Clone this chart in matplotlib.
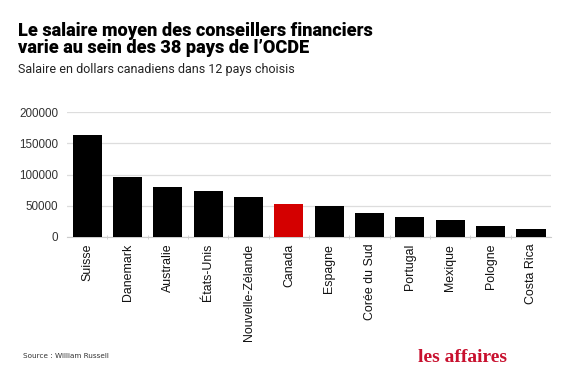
import matplotlib
matplotlib.use("Agg")
import matplotlib.pyplot as plt
import numpy as np

countries = ["Suisse", "Danemark", "Australie", "États-Unis", "Nouvelle-Zélande",
             "Canada", "Espagne", "Corée du Sud", "Portugal", "Mexique",
             "Pologne", "Costa Rica"]
salaries = [163000, 95800, 80600, 74200, 64500, 53200, 49500, 37700, 32300,
            26500, 17700, 12000]
highlight = "Canada"
yticks = [0, 50000, 100000, 150000, 200000]

title = "Le salaire moyen des conseillers financiers\nvarie au sein des 38 pays de l’OCDE"
subtitle = "Salaire en dollars canadiens dans 12 pays choisis"
source = "Source : William Russell"
brand = "les affaires"

fig = plt.figure(figsize=(5.7, 3.8), dpi=100)
ax = fig.add_axes([0.1175, 0.377, 0.8495, 0.3275])

x = np.arange(len(countries))
colors = ["#d40000" if c == highlight else "#000000" for c in countries]
ax.bar(x, salaries, width=0.72, color=colors, zorder=3)

ax.set_xlim(-0.5, len(countries) - 0.5)
ax.set_ylim(0, 200000)
ax.set_yticks(yticks)
ax.set_yticklabels([str(v) for v in yticks], fontsize=8.4, color="#333333",
                   family="Liberation Sans")
ax.yaxis.grid(True, color="#dddddd", linewidth=0.9, zorder=0)
ax.tick_params(axis="y", length=0, pad=6.5)

ax.set_xticks(x)
ax.set_xticklabels(countries, rotation=90, fontsize=8.9, family="Liberation Sans",
                   color="#111111")
ax.tick_params(axis="x", length=0, pad=5)
ax.set_xticks(x[:-1] + 0.5, minor=True)
ax.tick_params(axis="x", which="minor", length=3, color="#cccccc", direction="inout")

for s in ["top", "right", "left"]:
    ax.spines[s].set_visible(False)
ax.spines["bottom"].set_color("#cccccc")

fig.text(18 / 570, 1 - 22 / 380, title, fontsize=13.1, fontweight="heavy",
         family="Roboto", va="top", ha="left", linespacing=0.95, color="#000000")
fig.text(18 / 570, 1 - 63.5 / 380, subtitle, fontsize=9.0, family="Roboto",
         va="top", ha="left", color="#222222")
fig.text(23 / 570, 1 - 356 / 380, source, fontsize=5.2, family="Liberation Sans Narrow",
         va="center", ha="left", color="#333333")
fig.text(507 / 570, 1 - 357 / 380, brand, fontsize=14, family="Liberation Serif",
         fontweight="bold", va="center", ha="right", color="#c8102e")

fig.savefig("out.png", dpi=100)
